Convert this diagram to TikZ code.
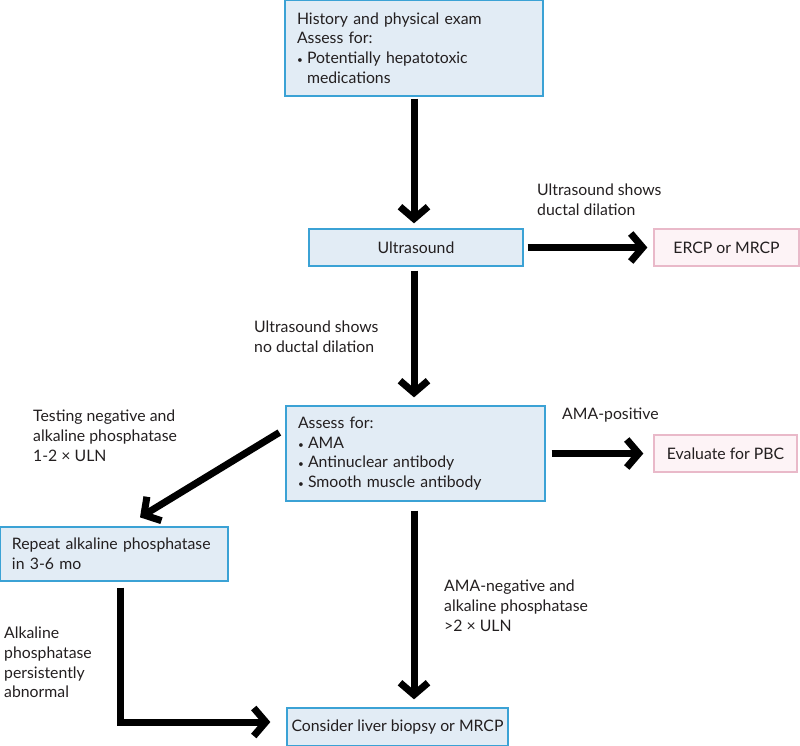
\documentclass[tikz,border=0pt]{standalone}
\usepackage{fontspec}
\setmainfont{Lato}
\usetikzlibrary{arrows.meta}
\definecolor{boxfill}{HTML}{E2ECF5}
\definecolor{boxline}{HTML}{3BA2D5}
\definecolor{pinkfill}{HTML}{FDF3F6}
\definecolor{pinkline}{HTML}{E9B9C9}
\definecolor{txt}{HTML}{231F20}
\newcommand{\bul}[1]{\makebox[10pt][l]{\fontsize{10}{10}\selectfont •}#1}
\newcommand{\ind}[1]{\hspace*{10pt}#1}
\begin{document}
\begin{tikzpicture}[x=1pt,y=-1pt,
  every node/.style={font=\fontsize{15.8}{19.7}\selectfont, text=txt},
  bluebox/.style={draw=boxline, fill=boxfill, line width=1.3pt, rectangle, inner xsep=12pt, inner ysep=0pt},
  pinkbox/.style={draw=pinkline, fill=pinkfill, line width=1.3pt, rectangle, inner xsep=8pt, inner ysep=0pt},
  lbl/.style={anchor=north west, inner sep=0pt, align=left},
  arr/.style={line width=7pt, -{Straight Barb[length=12pt,width=28pt]}}]
\useasboundingbox (0,0) rectangle (800,746);
% boxes
\node[bluebox, minimum width=258, minimum height=96, text width=234, align=left] (hx) at (414,48)
  {History and physical exam\\Assess for:\\\bul{Potentially hepatotoxic}\\\ind{medications}};
\node[bluebox, minimum width=214, minimum height=37] (us) at (416,247.5) {Ultrasound};
\node[pinkbox, minimum width=145, minimum height=37] (er) at (726.5,247.5) {ERCP or MRCP};
\node[bluebox, minimum width=259, minimum height=95, text width=235, align=left] (as) at (415.5,453.5)
  {Assess for:\\\bul{AMA}\\\bul{Antinuclear antibody}\\\bul{Smooth muscle antibody}};
\node[pinkbox, minimum width=143, minimum height=37] (pbc) at (725.5,453.5) {Evaluate for PBC};
\node[bluebox, minimum width=228, minimum height=54, text width=204, align=left] (rep) at (114,554)
  {Repeat alkaline phosphatase\\in 3-6 mo};
\node[bluebox, inner xsep=3pt, minimum width=221, minimum height=38] (bx) at (397.5,727) {Consider liver biopsy or MRCP};
% labels
\node[lbl] (l1) at (537,184) {Ultrasound shows\\ductal dilation};
\node[lbl] (l2) at (254,321) {Ultrasound shows\\no ductal dilation};
\node[lbl] (l3) at (562,408) {AMA-positive};
\node[lbl] (l4) at (33,410) {Testing negative and\\alkaline phosphatase\\1-2 × ULN};
\node[lbl] (l5) at (444,580) {AMA-negative and\\alkaline phosphatase\\>2 × ULN};
\node[lbl] (l6) at (4,627) {Alkaline\\phosphatase\\persistently\\abnormal};
% connectors
\draw[arr, shorten <=2pt, shorten >=5pt] (414,0 |- hx.south) -- (414,0 |- us.north);
\draw[arr, shorten <=4pt, shorten >=6pt] (us.east) -- (er.west);
\draw[arr, shorten <=4pt, shorten >=8pt] (414,0 |- us.south) -- (414,0 |- as.north);
\draw[arr, shorten <=6pt, shorten >=10pt] (as.east) -- (as.east -| pbc.west);
\coordinate (dstart) at ([xshift=-6pt,yshift=21pt]as.west);
\coordinate (dend) at ([xshift=26pt,yshift=9pt]rep.north);
\draw[arr] (dstart) -- (dend);
\draw[arr, shorten >=8pt] (414,0 |- as.south) ++(0,9) -- (414,0 |- bx.north);
\coordinate (estart) at (120,0 |- rep.south);
\coordinate (ecorner) at (120,722);
\draw[arr, shorten >=16pt] ([yshift=-6pt]estart) -- (ecorner) -- (ecorner -| bx.west);
\end{tikzpicture}
\end{document}
